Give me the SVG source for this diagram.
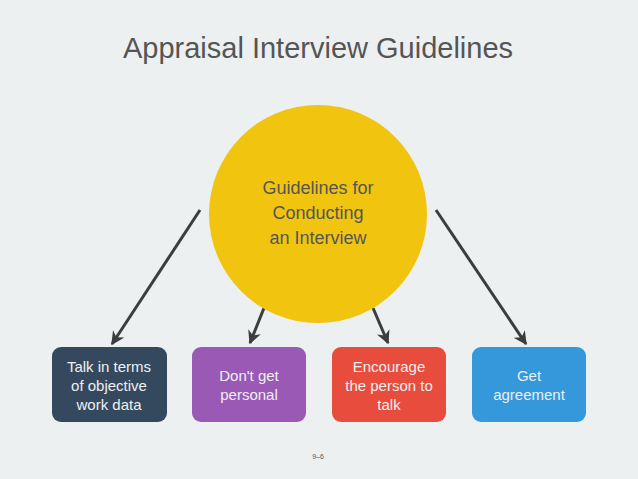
<svg xmlns="http://www.w3.org/2000/svg" width="638" height="479" viewBox="0 0 638 479">
<style>
text{font-family:"Century Gothic","Liberation Sans",Arial,sans-serif;text-anchor:middle}
.bt{fill:#ECF0F1;font-size:15px}
.ln{stroke:#3D3D3D;stroke-width:3;fill:none;marker-end:url(#ah)}
</style>
<defs><marker id="ah" viewBox="0 0 10 10" refX="9" refY="5" markerWidth="4.5" markerHeight="4.5" orient="auto"><path d="M0,0 L10,5 L0,10 L3,5 Z" fill="#3D3D3D"/></marker></defs>
<rect width="638" height="479" fill="#ECF0F1"/>
<text x="318" y="58" font-size="29" fill="#555">Appraisal Interview Guidelines</text>
<g id="connectors">
<line class="ln" x1="200" y1="210" x2="112" y2="344"/>
<line class="ln" x1="264" y1="308" x2="250" y2="343"/>
<line class="ln" x1="373" y1="308" x2="388" y2="343"/>
<line class="ln" x1="436" y1="210" x2="526" y2="344"/>
</g>
<g id="center"><circle cx="318" cy="214" r="109" fill="#F1C40F"/>
<text x="318" y="194" font-size="18" fill="#555">Guidelines for</text>
<text x="318" y="219" font-size="18" fill="#555">Conducting</text>
<text x="318" y="244" font-size="18" fill="#555">an Interview</text></g>
<g id="n1"><rect x="52" y="347" width="115" height="75" rx="9" fill="#34495E"/>
<text class="bt" x="109" y="372">Talk in terms</text><text class="bt" x="109" y="391">of objective</text><text class="bt" x="109" y="410">work data</text></g>
<g id="n2"><rect x="192" y="347" width="114" height="75" rx="9" fill="#9B59B6"/>
<text class="bt" x="249" y="381">Don't get</text><text class="bt" x="249" y="400">personal</text></g>
<g id="n3"><rect x="332" y="347" width="114" height="75" rx="9" fill="#E74C3C"/>
<text class="bt" x="389" y="372">Encourage</text><text class="bt" x="389" y="391">the person to</text><text class="bt" x="389" y="410">talk</text></g>
<g id="n4"><rect x="472" y="347" width="114" height="75" rx="9" fill="#3498DB"/>
<text class="bt" x="529" y="381">Get</text><text class="bt" x="529" y="400">agreement</text></g>
<text x="318" y="459" font-size="7" fill="#555">9–6</text>
</svg>
